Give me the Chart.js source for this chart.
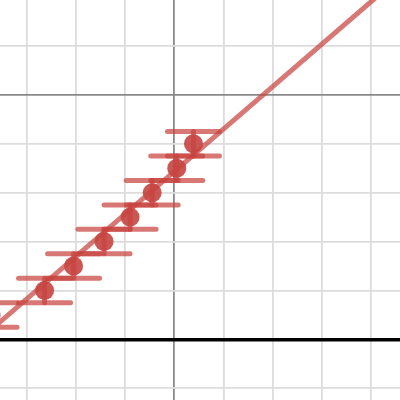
<!DOCTYPE html>
<html>
<head>
<meta charset="utf-8">
<script src="https://cdn.jsdelivr.net/npm/chart.js@4"></script>
<style>
  body { margin: 0; background: #fff; }
  canvas { display: block; }
</style>
</head>
<body>
<canvas id="myChart" width="400" height="400"></canvas>
<script>
// measured points (x, y) and y error
var pointX = [1.27, 2.36, 2.95, 3.57, 4.10, 4.55, 5.05, 5.39];
var pointY = [0.5, 1.0, 1.5, 2.0, 2.5, 3.0, 3.5, 4.0];
var yErr = [0.25, 0.25, 0.25, 0.25, 0.25, 0.25, 0.25, 0.25];

var fitX = [0, 10];
var fitY = [-0.907, 7.77];

// view window and grid
var xMin = 1.453, xMax = 9.593;
var yMin = -1.24, yMax = 6.94;
var xGridTicks = [2, 3, 4, 5, 6, 7, 8, 9];
var yGridTicks = [-1, 0, 1, 2, 3, 4, 5, 6];

var red = 'rgba(199, 68, 64, 0.72)';
var redPoint = 'rgba(199, 68, 64, 0.9)';

// draws vertical error bars with wide caps
var errorBars = {
    id: 'errorBars',
    beforeDatasetsDraw: function(chart) {
        var ctx = chart.ctx;
        var xs = chart.scales.x, ys = chart.scales.y;
        var area = chart.chartArea;
        ctx.save();
        ctx.beginPath();
        ctx.rect(area.left, area.top, area.right - area.left, area.bottom - area.top);
        ctx.clip();
        ctx.strokeStyle = red;
        ctx.lineWidth = 5;
        ctx.lineCap = 'round';
        var capHalf = 26;
        for (var i = 0; i < pointX.length; i++) {
            var px = xs.getPixelForValue(pointX[i]);
            var top = ys.getPixelForValue(pointY[i] + yErr[i]);
            var bottom = ys.getPixelForValue(pointY[i] - yErr[i]);
            ctx.beginPath();
            ctx.moveTo(px, top);
            ctx.lineTo(px, bottom);
            ctx.stroke();
            ctx.beginPath();
            ctx.moveTo(px - capHalf, top);
            ctx.lineTo(px + capHalf, top);
            ctx.stroke();
            ctx.beginPath();
            ctx.moveTo(px - capHalf, bottom);
            ctx.lineTo(px + capHalf, bottom);
            ctx.stroke();
        }
        ctx.restore();
    }
};

function gridColor(c) {
    var v = c.tick.value;
    if (v === 0) return '#000000';
    if (v % 5 === 0) return '#8a8a8a';
    return '#dcdcdc';
}
function gridWidth(c) {
    var v = c.tick.value;
    if (v === 0) return 3.5;
    return 1.8;
}

var ctx = document.getElementById('myChart').getContext('2d');
var myChart = new Chart(ctx, {
    type: 'scatter',
    data: {
        datasets: [{
            type: 'line',
            data: fitX.map(function(x, i) { return { x: x, y: fitY[i] }; }),
            borderColor: red,
            borderWidth: 5,
            pointRadius: 0,
            borderCapStyle: 'round',
            fill: false
        }, {
            data: pointX.map(function(x, i) { return { x: x, y: pointY[i] }; }),
            backgroundColor: redPoint,
            borderWidth: 0,
            pointRadius: 9.5
        }]
    },
    options: {
        responsive: false,
        animation: false,
        layout: { padding: 0, autoPadding: false },
        plugins: { legend: { display: false }, tooltip: { enabled: false } },
        scales: {
            x: {
                type: 'linear',
                min: xMin,
                max: xMax,
                afterBuildTicks: function(scale) {
                    scale.ticks = xGridTicks.map(function(v) { return { value: v }; });
                },
                ticks: { display: false },
                border: { display: false },
                grid: { drawTicks: false, color: gridColor, lineWidth: gridWidth }
            },
            y: {
                type: 'linear',
                min: yMin,
                max: yMax,
                afterBuildTicks: function(scale) {
                    scale.ticks = yGridTicks.map(function(v) { return { value: v }; });
                },
                ticks: { display: false },
                border: { display: false },
                grid: { drawTicks: false, color: gridColor, lineWidth: gridWidth }
            }
        }
    },
    plugins: [errorBars]
});
</script>
</body>
</html>
